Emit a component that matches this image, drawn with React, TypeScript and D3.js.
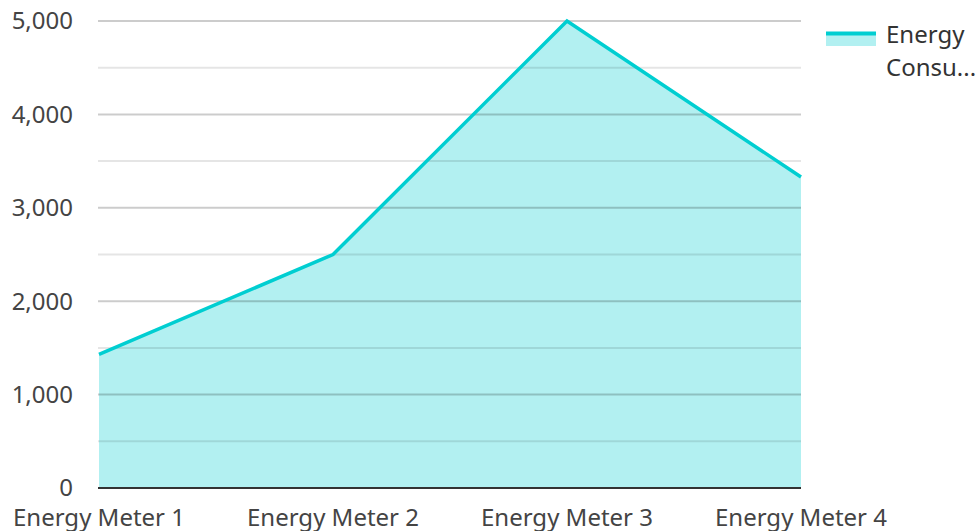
import * as d3 from 'd3';
import { useEffect, useRef } from 'react';

const categories = ['Energy Meter 1', 'Energy Meter 2', 'Energy Meter 3', 'Energy Meter 4'];
const consumption = [1430, 2500, 5000, 3330];
const seriesName = 'Energy Consumption';
const majorTicks = [0, 1000, 2000, 3000, 4000, 5000];
const minorTicks = [500, 1500, 2500, 3500, 4500];

const W = 980;
const H = 531;
const COLOR = '#00ced1';
const FONT = '"Noto Sans", "Open Sans", sans-serif';

function App() {
  const svgRef = useRef<SVGSVGElement>(null);

  useEffect(() => {
    const svg = d3.select(svgRef.current);
    svg.selectAll('*').remove();

    const margin = { left: 99, right: 179, top: 21, bottom: 43 };
    const x = d3
      .scalePoint<string>()
      .domain(categories)
      .range([margin.left, W - margin.right]);
    const y = d3
      .scaleLinear()
      .domain([0, 5000])
      .range([H - margin.bottom, margin.top]);

    const pts = categories.map((c, i) => ({ c, v: consumption[i] }));

    // area
    const area = d3
      .area<{ c: string; v: number }>()
      .x(d => x(d.c)!)
      .y0(y(0))
      .y1(d => y(d.v));
    svg.append('path').attr('d', area(pts)!).attr('fill', COLOR).attr('fill-opacity', 0.3);

    // grid over area
    const grid = svg.append('g');
    grid
      .selectAll('.minor')
      .data(minorTicks)
      .join('line')
      .attr('x1', margin.left - 1)
      .attr('x2', W - margin.right)
      .attr('y1', d => y(d))
      .attr('y2', d => y(d))
      .attr('stroke', 'rgba(0,0,0,0.1)')
      .attr('stroke-width', 2);
    grid
      .selectAll('.major')
      .data(majorTicks.filter(d => d > 0))
      .join('line')
      .attr('x1', margin.left - 1)
      .attr('x2', W - margin.right)
      .attr('y1', d => y(d))
      .attr('y2', d => y(d))
      .attr('stroke', 'rgba(0,0,0,0.2)')
      .attr('stroke-width', 2);

    // line
    const line = d3
      .line<{ c: string; v: number }>()
      .x(d => x(d.c)!)
      .y(d => y(d.v));
    svg
      .append('path')
      .attr('d', line(pts)!)
      .attr('fill', 'none')
      .attr('stroke', COLOR)
      .attr('stroke-width', 3.5)
      .attr('stroke-linejoin', 'miter');

    // baseline
    svg
      .append('line')
      .attr('x1', margin.left - 1)
      .attr('x2', W - margin.right)
      .attr('y1', y(0))
      .attr('y2', y(0))
      .attr('stroke', '#333')
      .attr('stroke-width', 2);

    // y labels
    svg
      .append('g')
      .selectAll('text')
      .data(majorTicks)
      .join('text')
      .attr('x', 73)
      .attr('y', d => y(d))
      .attr('dy', '0.35em')
      .attr('text-anchor', 'end')
      .attr('font-family', FONT)
      .attr('font-size', 24)
      .attr('fill', '#444')
      .text(d => d3.format(',')(d));

    // x labels
    svg
      .append('g')
      .selectAll('text')
      .data(categories)
      .join('text')
      .attr('x', d => x(d)!)
      .attr('y', 526)
      .attr('text-anchor', 'middle')
      .attr('font-family', FONT)
      .attr('font-size', 24)
      .attr('fill', '#444')
      .text(d => d);

    // legend
    const lg = svg.append('g').attr('transform', 'translate(826,30)');
    lg.append('rect').attr('x', 0).attr('y', 3).attr('width', 50).attr('height', 13).attr('fill', COLOR).attr('fill-opacity', 0.3);
    lg.append('line').attr('x1', 0).attr('x2', 50).attr('y1', 3.5).attr('y2', 3.5).attr('stroke', COLOR).attr('stroke-width', 4);
    const words = seriesName.split(' ');
    lg.append('text')
      .attr('x', 60)
      .attr('y', 13)
      .attr('font-family', FONT)
      .attr('font-size', 24)
      .attr('fill', '#333')
      .text(words[0]);
    lg.append('text')
      .attr('x', 60)
      .attr('y', 46)
      .attr('font-family', FONT)
      .attr('font-size', 24)
      .attr('fill', '#333')
      .text(words[1].slice(0, 5) + '...');
  }, []);

  return (
    <div style={{ position: 'absolute', left: 0, top: 0 }}>
      <svg ref={svgRef} width={W} height={H} style={{ display: 'block', background: '#fff' }} />
    </div>
  );
}

export default App;
